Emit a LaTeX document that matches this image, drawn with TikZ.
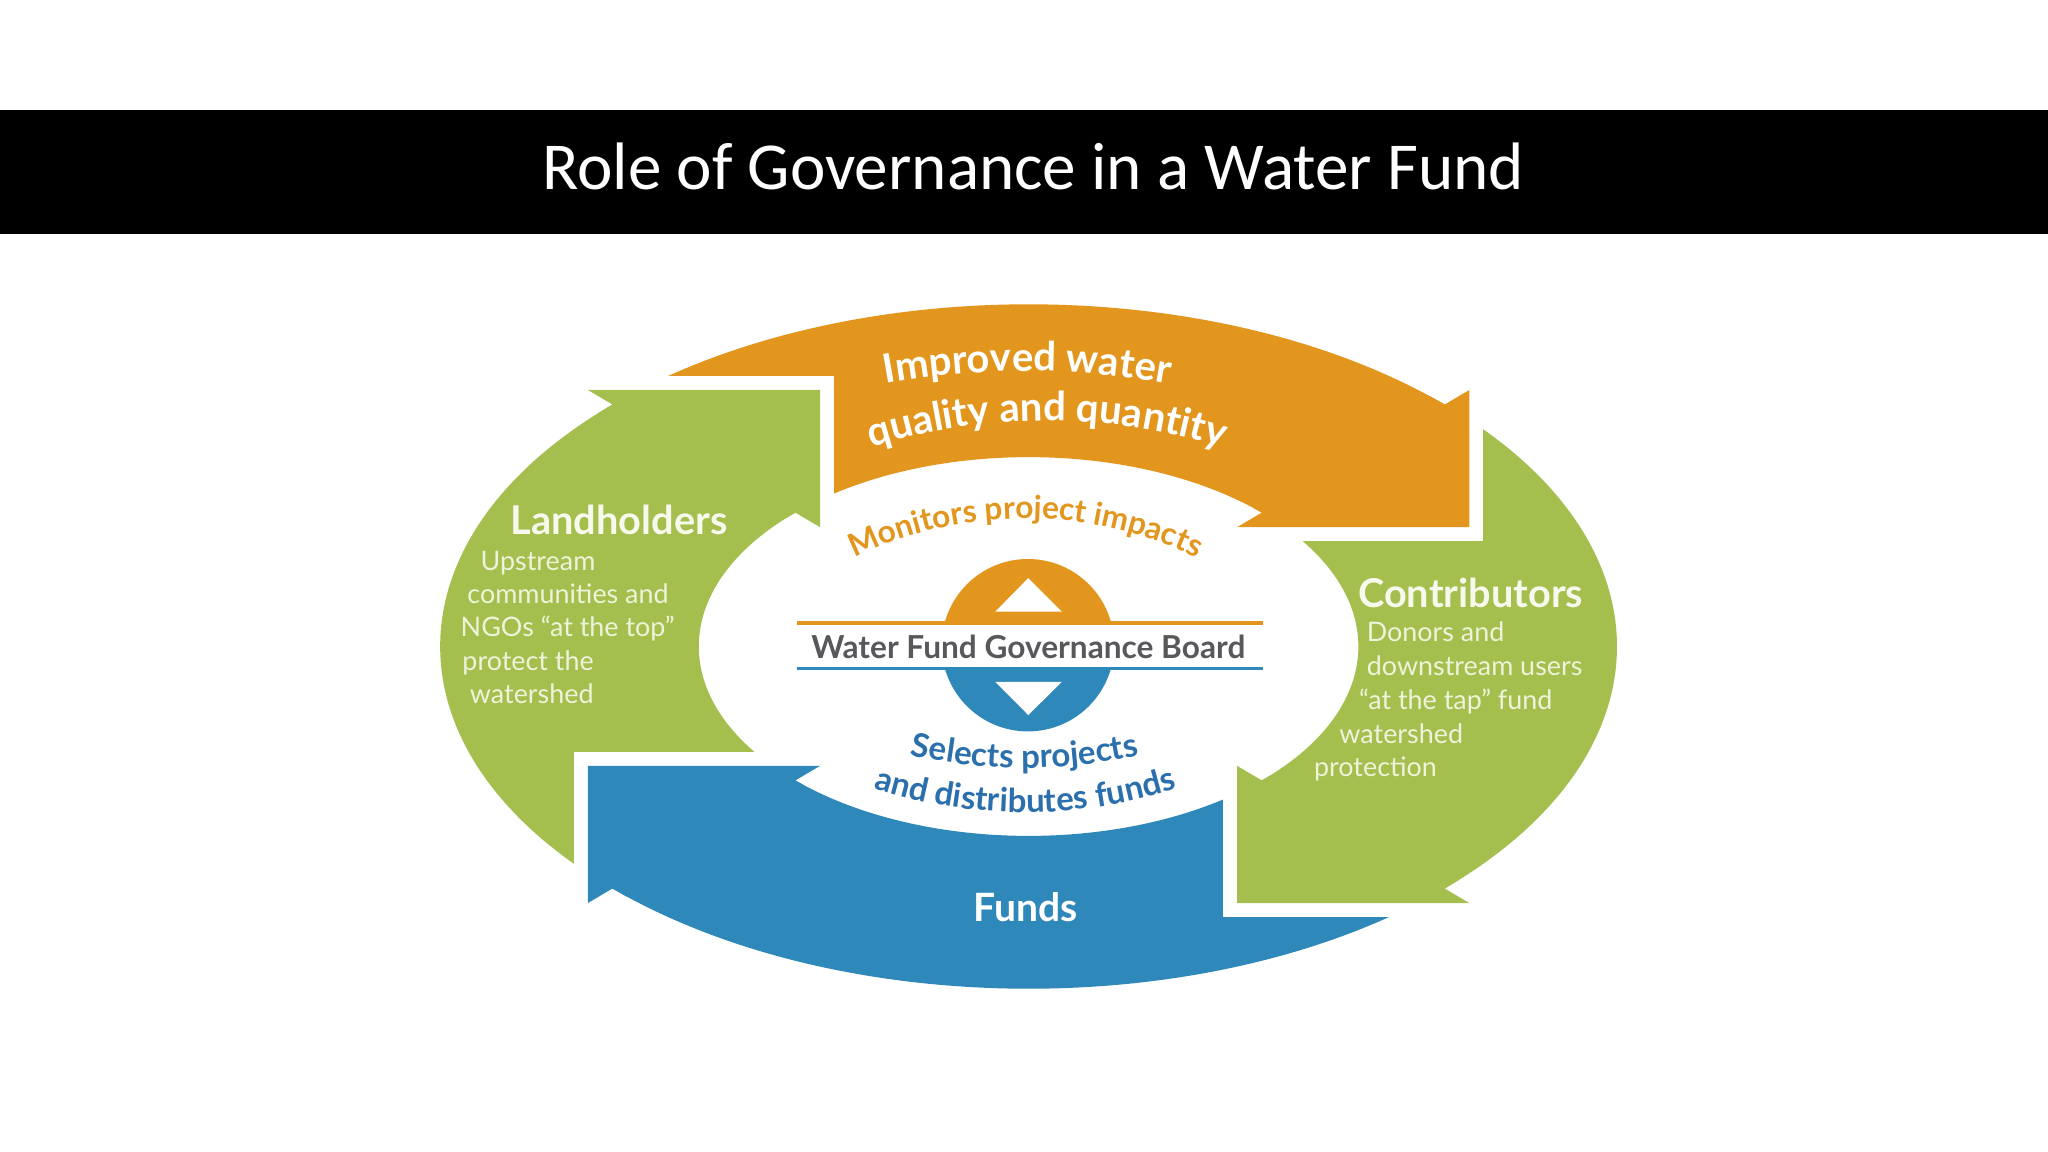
\documentclass[tikz,border=0pt]{standalone}
\usepackage{fontspec}
\setmainfont{Lato}
\newfontfamily\titlefont{Carlito}
\usetikzlibrary{calc,decorations.text}
\definecolor{cOrange}{HTML}{E3961D}
\definecolor{cGreen}{HTML}{A4BF4D}
\definecolor{cBlue}{HTML}{2F88BA}
\definecolor{cBoard}{HTML}{58585C}
\definecolor{cSelect}{HTML}{2B70AD}
\definecolor{cCream}{HTML}{F7F9EC}
\definecolor{cBody}{HTML}{EEF3DA}
\newcommand\setfsz[1]{\fontsize{#1}{#1}\selectfont}
\begin{document}
\begin{tikzpicture}[x=0.013061cm,y=0.013061cm,
  headborder/.style={draw=white,line width=0.274cm,line join=miter},
  bigbold/.style={font=\setfsz{11.3pt}\bfseries,text=cCream,inner sep=0pt,anchor=base},
  bodytxt/.style={font=\setfsz{7.65pt},text=cBody,anchor=base west,inner sep=0pt}]
\useasboundingbox (0,0) rectangle (1568,882);
\fill[white] (0,0) rectangle (1568,882);
% title bar
\fill[black] (0,703) rectangle (1568,798);
\node[font=\titlefont\setfsz{19.1pt},text=white,anchor=base,inner sep=0pt] (title) at (791,737) {Role of Governance in a Water Fund};
% geometry
\coordinate (C) at (787.5,387);
\path ($(C)+(135:450.5 and 262)$) coordinate (glO) ($(C)+(135:252.5 and 145)$) coordinate (glI)
      ($(C)+(45:450.5 and 262)$) coordinate (orO) ($(C)+(45:252.5 and 145)$) coordinate (orI)
      ($(C)+(-45:450.5 and 262)$) coordinate (grO) ($(C)+(-45:252.5 and 145)$) coordinate (grI)
      ($(C)+(225:450.5 and 262)$) coordinate (blO) ($(C)+(225:252.5 and 145)$) coordinate (blI);
\foreach \h in {gl,or,gr,bl}{
  \coordinate (\h B1) at ($(\h O)!-0.135!(\h I)$);
  \coordinate (\h B2) at ($(\h I)!-0.135!(\h O)$);
}
\coordinate (glT) at (glB2 |- glB1);
\coordinate (orT) at (orB1 |- orB2);
\coordinate (grT) at (grB2 |- grB1);
\coordinate (blT) at (blB1 |- blB2);
% bands
\fill[cOrange] (glO) arc[start angle=135,end angle=45,x radius=450.5,y radius=262]
  -- (orI) arc[start angle=45,end angle=135,x radius=252.5,y radius=145] -- cycle;
\fill[cGreen] (orO) arc[start angle=45,end angle=-45,x radius=450.5,y radius=262]
  -- (grI) arc[start angle=-45,end angle=45,x radius=252.5,y radius=145] -- cycle;
\fill[cBlue] (grO) arc[start angle=-45,end angle=-135,x radius=450.5,y radius=262]
  -- (blI) arc[start angle=-135,end angle=-45,x radius=252.5,y radius=145] -- cycle;
\fill[cGreen] (blO) arc[start angle=225,end angle=135,x radius=450.5,y radius=262]
  -- (glI) arc[start angle=135,end angle=225,x radius=252.5,y radius=145] -- cycle;
% heads (white border on the tip legs, then the head itself)
\draw[headborder] (glB1) -- (glT) -- (glB2);
\fill[cGreen] ($(C)+(137:450.5 and 262)$) arc[start angle=137,end angle=135,x radius=450.5,y radius=262]
  -- (glB1) -- (glT) -- (glB2) -- (glI) arc[start angle=135,end angle=137,x radius=252.5,y radius=145] -- cycle;
\draw[headborder] (orB1) -- (orT) -- (orB2);
\fill[cOrange] ($(C)+(47:450.5 and 262)$) arc[start angle=47,end angle=45,x radius=450.5,y radius=262]
  -- (orB1) -- (orT) -- (orB2) -- (orI) arc[start angle=45,end angle=47,x radius=252.5,y radius=145] -- cycle;
\draw[headborder] (grB1) -- (grT) -- (grB2);
\fill[cGreen] ($(C)+(-43:450.5 and 262)$) arc[start angle=-43,end angle=-45,x radius=450.5,y radius=262]
  -- (grB1) -- (grT) -- (grB2) -- (grI) arc[start angle=-45,end angle=-43,x radius=252.5,y radius=145] -- cycle;
\draw[headborder] (blB1) -- (blT) -- (blB2);
\fill[cBlue] ($(C)+(227:450.5 and 262)$) arc[start angle=227,end angle=225,x radius=450.5,y radius=262]
  -- (blB1) -- (blT) -- (blB2) -- (blI) arc[start angle=225,end angle=227,x radius=252.5,y radius=145] -- cycle;
% emblem
\begin{scope}
  \clip (700,405.2) rectangle (880,470);
  \fill[cOrange] (787,388) circle[radius=66];
\end{scope}
\begin{scope}
  \clip (700,370) rectangle (880,300);
  \fill[cBlue] (787,388) circle[radius=66];
\end{scope}
\fill[white] (762,413.7) -- (813,413.7) -- (787.3,439.4) -- cycle;
\fill[white] (762,360) -- (813,360) -- (787.3,334.5) -- cycle;
\draw[cOrange,line width=1pt] (610,405.2) -- (967,405.2);
\draw[cBlue,line width=1pt] (610,370) -- (967,370);
\node[font=\setfsz{9pt}\bfseries,text=cBoard,anchor=base,inner sep=0pt] (board) at (787.3,378) {Water Fund Governance Board};
% curved texts
\path[decorate,decoration={text along path,text align=center,text color=white,
  text={|\setfsz{11.4pt}\bfseries|Improved water}}]
  ($(786.5,-2)+(105:600)$) arc[start angle=105,end angle=75,radius=600];
\path[decorate,decoration={text along path,text align=center,text color=white,
  text={|\setfsz{11.4pt}\bfseries|quality and quantity}}]
  ($(801.5,110)+(112:450)$) arc[start angle=112,end angle=68,radius=450];
\path[decorate,decoration={text along path,text align=center,text color=cOrange,
  text={|\setfsz{9pt}\bfseries|Monitors project impacts}}]
  ($(785,185)+(125:300)$) arc[start angle=125,end angle=55,radius=300];
\path[decorate,decoration={text along path,text align=center,text color=cSelect,
  text={|\setfsz{9.4pt}\bfseries|Selects projects}}]
  ($(784.5,694)+(255:400)$) arc[start angle=255,end angle=285,radius=400];
\path[decorate,decoration={text along path,text align=center,text color=cSelect,
  text={|\setfsz{9.4pt}\bfseries|and distributes funds}}]
  ($(785,640)+(248:380)$) arc[start angle=248,end angle=292,radius=380];
% side texts
\node[bigbold] (landh) at (474,472.4) {Landholders};
\node[bodytxt] (l1) at (367.5,445.5) {Upstream};
\node[bodytxt] (l2) at (357.3,420) {communities and};
\node[bodytxt] (l3) at (352.2,394.5) {NGOs ``at the top''};
\node[bodytxt] (l4) at (353.5,369) {protect the};
\node[bodytxt] (l5) at (359.3,343.5) {watershed};
\node[bigbold] (contrib) at (1126,417) {Contributors};
\node[bodytxt] (c1) at (1046,391) {Donors and};
\node[bodytxt] (c2) at (1046,365) {downstream users};
\node[bodytxt] (c3) at (1040,339) {``at the tap'' fund};
\node[bodytxt] (c4) at (1025,313) {watershed};
\node[bodytxt] (c5) at (1005.6,287.8) {protection};
\node[bigbold,text=white,font=\setfsz{11.1pt}\bfseries] (funds) at (785,176.3) {Funds};
\end{tikzpicture}
\end{document}
